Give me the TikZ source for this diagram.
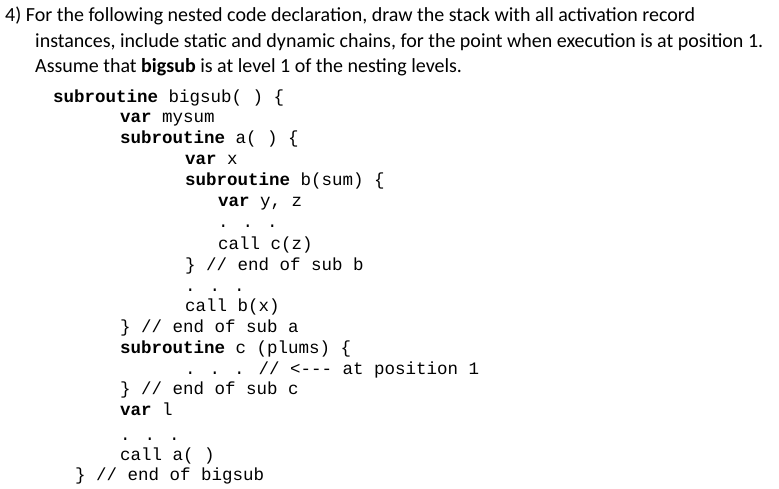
\documentclass[tikz,border=0pt]{standalone}
\usepackage{fontspec}
\setmainfont{Carlito}
\newfontfamily\codefont{Liberation Mono}
\begin{document}
\begin{tikzpicture}[x=1pt,y=-1pt,
  txt/.style={anchor=base west,inner sep=0pt,font=\fontsize{20}{24}\selectfont},
  code/.style={anchor=base west,inner sep=0pt,font=\codefont\fontsize{17.5}{20}\selectfont}]
\useasboundingbox (0,0) rectangle (779,489);
\node[txt] (t1) at (5,22) {4) For the following nested code declaration, draw the stack with all activation record};
\node[txt] (t2) at (35,48) {instances, include static and dynamic chains, for the point when execution is at position 1.};
\node[txt] (t3) at (35,73) {Assume that \textbf{bigsub} is at level 1 of the nesting levels.};
\node[code] (c1) at (53,103) {\textbf{subroutine} bigsub( ) \{};
\node[code] (c2) at (120,123) {\textbf{var} mysum};
\node[code] (c3) at (120,144) {\textbf{subroutine} a( ) \{};
\node[code] (c4) at (185,165) {\textbf{var} x};
\node[code] (c5) at (185,186) {\textbf{subroutine} b(sum) \{};
\node[code] (c6) at (218,207) {\textbf{var} y, z};
\node[code] (c7) at (218,228) {. . .};
\node[code] (c8) at (218,249) {call c(z)};
\node[code] (c9) at (185,270) {\} // end of sub b};
\node[code] (c10) at (185,291) {. . .};
\node[code] (c11) at (185,311) {call b(x)};
\node[code] (c12) at (120,332) {\} // end of sub a};
\node[code] (c13) at (120,353) {\textbf{subroutine} c (plums) \{};
\node[code] (c14) at (185,374) {. . . // <--- at position 1};
\node[code] (c15) at (120,394) {\} // end of sub c};
\node[code] (c16) at (120,415) {\textbf{var} l};
\node[code] (c17) at (120,440) {. . .};
\node[code] (c18) at (120,460) {call a( )};
\node[code] (c19) at (75,480) {\} // end of bigsub};
\end{tikzpicture}
\end{document}
